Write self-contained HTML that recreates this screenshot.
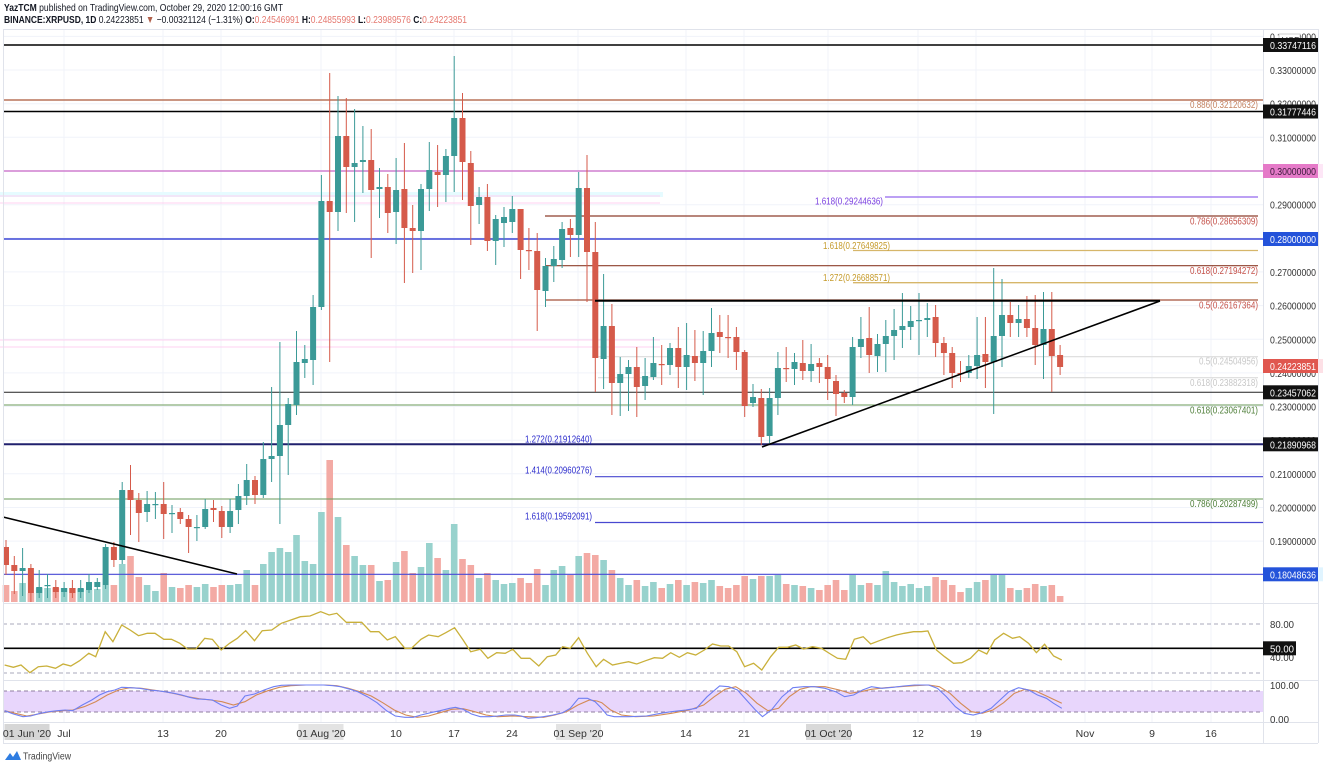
<!DOCTYPE html>
<html><head><meta charset="utf-8">
<style>
html,body{margin:0;padding:0;background:#fff;width:1323px;height:768px;overflow:hidden}
svg{position:absolute;left:0;top:0;font-family:"Liberation Sans",Arial,sans-serif}
</style></head>
<body>
<svg id="c" width="1323" height="768" viewBox="0 0 1323 768">
<rect x="0" y="0" width="1323" height="768" fill="#fff"/>
<!-- header -->
<text x="4" y="11" font-size="10.5" fill="#131722" textLength="279" lengthAdjust="spacingAndGlyphs"><tspan font-weight="bold">YazTCM</tspan> published on TradingView.com, October 29, 2020 12:00:16 GMT</text>
<text x="4" y="23" font-size="10.5" fill="#131722" textLength="463" lengthAdjust="spacingAndGlyphs"><tspan font-weight="bold">BINANCE:XRPUSD, 1D</tspan> 0.24223851 <tspan fill="#b0604a">▼</tspan> −0.00321124 (−1.31%) <tspan font-weight="bold">O:</tspan><tspan fill="#e5786f">0.24546991</tspan> <tspan font-weight="bold">H:</tspan><tspan fill="#e5786f">0.24855993</tspan> <tspan font-weight="bold">L:</tspan><tspan fill="#e5786f">0.23989576</tspan> <tspan font-weight="bold">C:</tspan><tspan fill="#e5786f">0.24223851</tspan></text>

<g id="grid" stroke="#f0f3fa" stroke-width="1"></g>
<!-- artifacts -->
<rect x="0" y="192" width="663" height="5" fill="#e6fbff"/>
<g stroke="#ffd0f0" stroke-width="1">
<line x1="0" y1="196" x2="660" y2="196"/><line x1="0" y1="203" x2="660" y2="203"/>
<line x1="0" y1="340" x2="660" y2="340"/><line x1="0" y1="347" x2="660" y2="347"/>
</g>
<g id="vol"></g>

<!-- horizontal levels -->
<g fill="none">
<line x1="3" y1="45" x2="1263" y2="45" stroke="#000" stroke-width="1.6"/>
<line x1="3" y1="100" x2="1263" y2="100" stroke="#b8745a" stroke-width="1.5"/>
<line x1="3" y1="111.5" x2="1263" y2="111.5" stroke="#000" stroke-width="1.6"/>
<line x1="3" y1="171" x2="1263" y2="171" stroke="#cf7fcf" stroke-width="1.5"/>
<line x1="885" y1="197" x2="1258" y2="197" stroke="#9468ee" stroke-width="1.2"/>
<line x1="545" y1="216" x2="1258" y2="216" stroke="#8e3f2c" stroke-width="1.2"/>
<line x1="3" y1="239" x2="1263" y2="239" stroke="#3b46d6" stroke-width="1.5"/>
<line x1="853" y1="250.5" x2="1258" y2="250.5" stroke="#d6b66a" stroke-width="1.3"/>
<line x1="545" y1="265.7" x2="1258" y2="265.7" stroke="#8e3f2c" stroke-width="1.2"/>
<line x1="853" y1="282.7" x2="1258" y2="282.7" stroke="#d6b66a" stroke-width="1.3"/>
<line x1="545" y1="300" x2="1258" y2="300" stroke="#a4503a" stroke-width="1.2"/>
<line x1="598" y1="356.7" x2="1258" y2="356.7" stroke="#dcdcdc" stroke-width="1.2"/>
<line x1="598" y1="377.7" x2="1258" y2="377.7" stroke="#dcdcdc" stroke-width="1.2"/>
<line x1="3" y1="392.3" x2="1263" y2="392.3" stroke="#222" stroke-width="1"/>
<line x1="3" y1="405" x2="1263" y2="405" stroke="#6a9a5a" stroke-width="1"/>
<line x1="3" y1="444.3" x2="1263" y2="444.3" stroke="#20206e" stroke-width="2"/>
<line x1="595" y1="476.7" x2="1263" y2="476.7" stroke="#4848d0" stroke-width="1.2"/>
<line x1="3" y1="499" x2="1263" y2="499" stroke="#6a9a5a" stroke-width="1"/>
<line x1="595" y1="522.5" x2="1263" y2="522.5" stroke="#4848d0" stroke-width="1.2"/>
<line x1="3" y1="574.3" x2="1263" y2="574.3" stroke="#4a4ad6" stroke-width="1.2"/>
</g>

<g id="cdl"></g>

<!-- trendlines -->
<line x1="3" y1="517" x2="237" y2="574" stroke="#000" stroke-width="1.6"/>
<line x1="595" y1="300.8" x2="1160" y2="300.8" stroke="#000" stroke-width="2"/>
<line x1="762" y1="447" x2="1160" y2="301" stroke="#000" stroke-width="1.6"/>

<!-- fib labels -->
<g font-size="10" text-anchor="end">
<text x="1258" y="108" fill="#c58462" textLength="68" lengthAdjust="spacingAndGlyphs">0.886(0.32120632)</text>
<text x="1258" y="224.5" fill="#c5524a" textLength="68" lengthAdjust="spacingAndGlyphs">0.786(0.28656309)</text>
<text x="1258" y="274" fill="#c5524a" textLength="68" lengthAdjust="spacingAndGlyphs">0.618(0.27194272)</text>
<text x="1258" y="308.5" fill="#c5524a" textLength="59" lengthAdjust="spacingAndGlyphs">0.5(0.26167364)</text>
<text x="1258" y="364.5" fill="#c8c8c8" textLength="59" lengthAdjust="spacingAndGlyphs">0.5(0.24504956)</text>
<text x="1258" y="386" fill="#c8c8c8" textLength="68" lengthAdjust="spacingAndGlyphs">0.618(0.23882318)</text>
<text x="1258" y="413.5" fill="#4f7f3a" textLength="68" lengthAdjust="spacingAndGlyphs">0.618(0.23067401)</text>
<text x="1258" y="507" fill="#4f7f3a" textLength="68" lengthAdjust="spacingAndGlyphs">0.786(0.20287499)</text>
</g>
<g font-size="10">
<text x="815" y="204.5" fill="#7a3fe0" textLength="68" lengthAdjust="spacingAndGlyphs">1.618(0.29244636)</text>
<text x="823" y="249" fill="#c59a2a" textLength="67" lengthAdjust="spacingAndGlyphs">1.618(0.27649825)</text>
<text x="823" y="281" fill="#c59a2a" textLength="67" lengthAdjust="spacingAndGlyphs">1.272(0.26688571)</text>
<text x="525" y="442.5" fill="#2a2acc" textLength="67" lengthAdjust="spacingAndGlyphs">1.272(0.21912640)</text>
<text x="525" y="473.5" fill="#2a2acc" textLength="67" lengthAdjust="spacingAndGlyphs">1.414(0.20960276)</text>
<text x="525" y="519.5" fill="#2a2acc" textLength="67" lengthAdjust="spacingAndGlyphs">1.618(0.19592091)</text>
</g>

<!-- RSI pane -->
<line x1="3" y1="624" x2="1263" y2="624" stroke="#a9a9bb" stroke-dasharray="4,3"/>
<line x1="3" y1="673" x2="1263" y2="673" stroke="#a9a9bb" stroke-dasharray="4,3"/>
<line x1="3" y1="648.3" x2="1263" y2="648.3" stroke="#000" stroke-width="1.6"/>
<polyline id="rsi" fill="none" stroke="#c9b03a" stroke-width="1.3" points=""/>

<!-- Stoch pane -->
<rect x="3" y="691" width="1260" height="21" fill="#e8d6fc"/>
<line x1="3" y1="691" x2="1263" y2="691" stroke="#8f7f9f" stroke-dasharray="4,3"/>
<line x1="3" y1="712" x2="1263" y2="712" stroke="#8f7f9f" stroke-dasharray="4,3"/>
<polyline id="sd" fill="none" stroke="#d38a55" stroke-width="1.1" points=""/>
<polyline id="sk" fill="none" stroke="#6f7ff3" stroke-width="1.1" points=""/>

<!-- frame -->
<g stroke="#e0e3eb" stroke-width="1">
<line x1="3" y1="29.5" x2="1318" y2="29.5"/>
<line x1="3.5" y1="29" x2="3.5" y2="743"/>
<line x1="1263.5" y1="29" x2="1263.5" y2="743"/>
<line x1="1318.5" y1="29" x2="1318.5" y2="743"/>
<line x1="3" y1="603.5" x2="1318" y2="603.5"/>
<line x1="3" y1="680.5" x2="1318" y2="680.5"/>
<line x1="3" y1="722.5" x2="1318" y2="722.5"/>
<line x1="3" y1="743.5" x2="1318" y2="743.5"/>
</g>

<!-- price axis -->
<g id="pax" font-size="10.5" fill="#333"></g>
<g font-size="10.5">
<rect x="1279" y="34" width="21" height="12" fill="#fff" stroke="#d0d0d0"/>
<text x="1281.5" y="43.5" font-size="9" fill="#333">USD</text>
<rect x="1263" y="38" width="55" height="14" fill="#111"/>
<text x="1270" y="49" fill="#fff" textLength="46" lengthAdjust="spacingAndGlyphs">0.33747116</text>
<rect x="1300" y="38" width="18" height="0" fill="#111"/>
<rect x="1263" y="104.5" width="55" height="14" fill="#111"/>
<text x="1270" y="115.5" fill="#fff" textLength="46" lengthAdjust="spacingAndGlyphs">0.31777446</text>
<rect x="1318" y="164" width="5" height="14" fill="#fde6f6"/>
<rect x="1263" y="164" width="55" height="14" fill="#e57ac8"/>
<text x="1270" y="175" fill="#3a1a3a" textLength="46" lengthAdjust="spacingAndGlyphs">0.30000000</text>
<rect x="1263" y="232" width="55" height="14" fill="#2453da"/>
<text x="1270" y="243" fill="#fff" textLength="46" lengthAdjust="spacingAndGlyphs">0.28000000</text>
<rect x="1318" y="359" width="5" height="14" fill="#fde0e6"/>
<rect x="1263" y="359" width="55" height="14" fill="#e0574f"/>
<text x="1270" y="370" fill="#fff" textLength="46" lengthAdjust="spacingAndGlyphs">0.24223851</text>
<rect x="1263" y="385.3" width="55" height="14" fill="#111"/>
<text x="1270" y="396.3" fill="#fff" textLength="46" lengthAdjust="spacingAndGlyphs">0.23457062</text>
<rect x="1263" y="437.3" width="55" height="14" fill="#111"/>
<text x="1270" y="448.3" fill="#fff" textLength="46" lengthAdjust="spacingAndGlyphs">0.21890968</text>
<rect x="1318" y="567.3" width="5" height="14" fill="#e0f4ff"/>
<rect x="1263" y="567.3" width="55" height="14" fill="#2453da"/>
<text x="1270" y="578.3" fill="#fff" textLength="46" lengthAdjust="spacingAndGlyphs">0.18048636</text>
<!-- RSI / stoch axis -->
<text x="1270" y="628" fill="#333" textLength="24" lengthAdjust="spacingAndGlyphs">80.00</text>
<text x="1270" y="661" fill="#333" textLength="24" lengthAdjust="spacingAndGlyphs">40.00</text>
<rect x="1263" y="641.3" width="33" height="14" fill="#111"/>
<text x="1270" y="652.3" fill="#fff" textLength="24" lengthAdjust="spacingAndGlyphs">50.00</text>
<text x="1270" y="689" fill="#333" textLength="29" lengthAdjust="spacingAndGlyphs">100.00</text>
<text x="1270" y="723" fill="#333" textLength="19" lengthAdjust="spacingAndGlyphs">0.00</text>
</g>

<!-- time axis -->
<g font-size="10.5" fill="#333" text-anchor="middle">
<rect x="4.5" y="724" width="45" height="16" fill="#d6d6d6"/>
<text x="27" y="737">01 Jun '20</text>
<text x="64" y="737">Jul</text>
<text x="163" y="737">13</text>
<text x="221" y="737">20</text>
<rect x="298.5" y="724" width="45" height="16" fill="#e3e3e3"/>
<text x="321" y="737">01 Aug '20</text>
<text x="396" y="737">10</text>
<text x="454" y="737">17</text>
<text x="512" y="737">24</text>
<rect x="556" y="724" width="45" height="16" fill="#e3e3e3"/>
<text x="578.5" y="737">01 Sep '20</text>
<text x="686" y="737">14</text>
<text x="744" y="737">21</text>
<rect x="806" y="724" width="45" height="16" fill="#d9d9d9"/>
<text x="828.5" y="737">01 Oct '20</text>
<text x="918" y="737">12</text>
<text x="976" y="737">19</text>
<text x="1085" y="737">Nov</text>
<text x="1152" y="737">9</text>
<text x="1211" y="737">16</text>
</g>

<!-- logo -->
<g>
<path d="M5 760 L10 753 L13 757 L17 751 L21 760 Z" fill="#2f7de1"/>
<text x="23" y="759.5" font-size="10" fill="#444" textLength="48" lengthAdjust="spacingAndGlyphs">TradingView</text>
</g>
</svg>

<script>
(function(){
var C=[[547,565,540,575,0],[565,571,556,594,0],[568,571,548,596,1],[568,593,564,602,0],[587,593,570,598,1],[585,586,574,598,1],[587,592,580,598,0],[588,592,582,597,1],[588,593,580,598,0],[588,592,580,598,1],
[582,590,574,593,1],[582,587,578,590,1],[547,585,544,589,1],[547,560,542,567,0],[490,560,482,564,1],[490,500,465,535,0],[500,513,493,542,0],[504,512,491,522,1],[504,505,492,519,1],[504,514,482,539,0],
[513,514,505,533,1],[512,519,508,524,0],[519,527,515,553,0],[527,528,515,541,1],[509,527,499,529,1],[508,510,500,522,0],[511,527,506,538,0],[511,527,499,533,1],[496,510,484,524,1],[480,496,464,505,1],
[480,495,476,504,0],[459,495,442,498,1],[456,459,387,482,1],[425,456,342,524,1],[404,425,398,475,1],[362,405,331,415,1],[359,363,345,378,1],[307,360,295,385,1],[201,307,175,310,1],[201,212,73,362,0],
[136,212,96,231,1],[136,167,98,213,0],[163,167,109,222,1],[160,162,126,193,1],[160,190,129,258,0],[187,189,168,218,1],[187,213,174,233,0],[190,212,158,244,1],[189,228,143,283,0],[228,231,205,273,0],
[189,231,184,270,1],[170,189,142,211,1],[172,175,145,207,0],[156,175,149,202,1],[118,156,56,192,1],[118,162,93,200,0],[163,206,151,245,0],[197,205,187,224,1],[197,241,184,251,0],[219,241,215,265,1],
[217,223,207,247,1],[209,222,196,233,1],[209,250,209,279,0],[250,251,228,270,0],[251,290,233,331,0],[266,291,258,307,1],[259,266,246,282,1],[229,260,222,268,1],[228,235,219,257,0],[188,235,172,257,1],
[188,252,155,302,0],[252,358,222,392,0],[326,359,274,389,1],[326,383,304,415,0],[374,383,357,416,1],[367,374,360,411,1],[367,387,347,417,0],[376,386,358,400,1],[363,377,337,380,1],[364,365,345,385,0],
[348,365,343,375,1],[348,367,327,388,0],[355,367,323,390,1],[356,363,330,381,0],[351,363,331,395,1],[333,351,308,367,1],[332,337,315,353,0],[337,338,315,358,0],[337,352,327,370,0],[352,406,350,417,0],
[397,403,384,407,1],[398,437,389,445,0],[398,436,388,443,1],[368,398,352,415,1],[368,369,347,382,0],[362,369,353,385,1],[363,371,340,380,0],[364,371,344,382,1],[363,367,358,383,0],[367,379,355,400,0],
[381,394,375,416,0],[393,397,390,403,0],[347,397,337,405,1],[339,347,317,358,1],[338,355,307,373,0],[344,356,334,372,1],[336,344,320,372,1],[330,336,309,360,1],[326,330,293,348,1],[321,327,306,340,1],
[320,321,293,355,1],[318,320,303,337,1],[317,343,305,357,0],[343,353,337,375,0],[353,373,347,388,0],[373,374,361,382,0],[366,373,355,378,1],[355,366,317,379,1],[354,362,317,388,0],[336,362,268,414,1],
[315,336,279,367,1],[315,323,302,337,0],[319,323,305,337,1],[319,328,296,337,0],[328,345,295,365,0],[329,345,292,379,1],[329,356,292,392,0],[355,367,345,375,0]];
var V=[585,591,583,593,588,588,588,588,588,589,590,589,585,585,564,556,577,585,591,573,587,588,585,587,584,587,585,585,584,570,585,564,552,548,552,535,561,564,512,460,517,545,556,565,565,581,580,562,551,573,567,543,558,570,524,559,565,578,573,580,584,583,578,583,569,585,
570,566,575,556,553,555,560,570,578,585,580,586,582,588,584,580,585,582,583,580,586,588,585,576,579,576,576,575,584,585,586,588,590,585,580,590,575,585,583,585,571,582,586,584,588,586,577,580,585,592,588,582,580,575,575,588,590,588,584,586,585,596];
var vol='',cd='';
for(var i=0;i<C.length;i++){
 var c=C[i],x=6+8.3*i,up=c[4];
 var vy=V[i]||590;
 vol+='<rect x="'+(x-3.3).toFixed(1)+'" y="'+vy+'" width="6.6" height="'+(602-vy)+'" fill="'+(up?'#98d2cd':'#f3aaa4')+'"/>';
 var col=up?'#3b9a97':'#d55a4a';
 cd+='<line x1="'+x.toFixed(1)+'" y1="'+c[2]+'" x2="'+x.toFixed(1)+'" y2="'+c[3]+'" stroke="'+col+'" stroke-width="1"/>';
 var h=Math.max(1.2,c[1]-c[0]);
 cd+='<rect x="'+(x-3).toFixed(1)+'" y="'+c[0]+'" width="6" height="'+h+'" fill="'+col+'"/>';
}
document.getElementById('vol').innerHTML=vol;
document.getElementById('cdl').innerHTML=cd;

var gx=[64,163,221,321,396,454,512,578,686,744,828,918,976,1085,1152,1211],g='';
gx.forEach(function(x){g+='<line x1="'+x+'" y1="30" x2="'+x+'" y2="722"/>';});
var pa='';
for(var k=18;k<=34;k++){var p=k/100,y=171+(0.30-p)*3365;
 g+='<line x1="4" y1="'+y.toFixed(1)+'" x2="1263" y2="'+y.toFixed(1)+'"/>';
 pa+='<text x="1270" y="'+(y+4).toFixed(1)+'" textLength="46" lengthAdjust="spacingAndGlyphs">'+p.toFixed(8)+'</text>';}
document.getElementById('grid').innerHTML=g;
document.getElementById('pax').innerHTML=pa;

function pts(a,ox,sx){var s='';for(var i=0;i<a.length;i+=2){s+=(ox+a[i]/sx).toFixed(1)+','+(590+a[i+1]/3).toFixed(1)+' ';}return s;}
var r5=[12,225,35,232,55,225,78,248,100,230,122,228,145,235,165,222,185,228,208,212,232,190,250,200,275,125,295,155,318,105,340,120,362,137,385,130,405,130,428,148,448,148,470,160,490,177,512,177,535,145,555,148,578,180,600,160,620,145,642,122,665,152,685,122,710,120,735,100,760,90,785,80,810,78,838,65,860,75,880,70,905,97,925,97,945,97,968,125,990,125,1012,150,1033,140,1058,175,1075,175,1100,148,1120,135,1145,140,1165,128,1188,113,1210,150,1230,185,1255,178,1275,205,1298,188,1320,190,1340,178,1362,205,1385,205,1408,228,1430,200,1452,195,1470,170,1490,175,1512,143,1535,190,1558,230];
var r6=[10,208,35,225,58,220,80,215,103,222,128,212,152,203,175,205,198,188,222,202,245,188,268,195,292,180,315,162,338,168,360,168,383,185,405,230,430,220,453,240,478,200,500,172,525,172,548,165,570,177,595,170,620,175,645,192,665,205,688,208,712,148,737,140,758,162,782,152,805,143,830,135,852,130,878,125,900,125,918,123,942,180,965,200,990,220,1013,218,1037,205,1060,180,1083,192,1105,150,1130,130,1155,145,1175,140,1200,160,1222,188,1245,163,1270,198,1293,210];
document.getElementById('rsi').setAttribute('points',pts(r5,0,2.613)+pts(r6,600,2.8));
var k5=[12,362,35,372,60,380,80,378,105,370,128,365,150,362,170,360,190,362,215,345,240,330,260,315,280,305,300,300,318,292,340,293,365,295,390,300,410,302,430,305,455,310,475,315,495,322,515,327,535,328,555,330,578,345,600,355,620,348,640,318,665,312,690,300,715,290,735,286,760,285,790,285,820,285,845,285,870,287,890,290,915,298,935,305,960,320,985,338,1010,362,1033,378,1058,382,1080,382,1100,375,1125,368,1150,362,1175,355,1190,352,1210,358,1232,372,1255,380,1280,380,1300,378,1322,375,1345,375,1362,378,1380,385,1400,383,1420,380,1445,375,1470,368,1490,355,1512,325,1535,325,1555,335];
var k6=[0,350,20,375,40,380,80,380,130,378,170,370,200,365,240,360,270,355,300,320,335,288,360,290,385,300,410,330,435,360,455,380,480,360,510,320,540,293,570,290,600,290,630,295,660,305,685,320,710,315,735,300,760,290,790,295,820,292,850,288,880,285,920,285,945,295,970,320,995,350,1020,370,1045,375,1070,368,1095,355,1120,330,1145,305,1172,293,1200,300,1225,315,1250,325,1270,340,1293,355];
var d5=[12,362,40,370,70,378,100,372,130,366,160,362,190,360,220,350,250,335,280,315,310,300,340,293,370,295,400,300,430,305,460,312,490,320,520,326,550,330,580,335,610,345,640,335,670,315,700,302,730,292,760,287,800,285,850,285,880,287,910,295,940,305,970,318,1000,338,1030,360,1060,375,1090,382,1120,378,1150,368,1180,358,1210,356,1240,365,1270,375,1300,380,1340,378,1380,380,1420,382,1450,375,1480,365,1510,345,1540,330,1560,333];
var d6=[5,338,30,360,60,375,100,380,150,378,200,370,250,360,290,345,320,320,350,298,380,290,410,310,440,340,470,362,500,355,530,320,560,298,590,290,630,290,670,300,700,310,730,305,760,298,800,293,840,290,880,287,920,285,950,290,980,310,1010,340,1040,365,1070,370,1100,360,1130,338,1160,310,1190,298,1220,303,1250,318,1293,340];
document.getElementById('sk').setAttribute('points',pts(k5,0,2.613)+pts(k6,600,2.8));
document.getElementById('sd').setAttribute('points',pts(d5,0,2.613)+pts(d6,600,2.8));
})();
</script>
</body></html>
